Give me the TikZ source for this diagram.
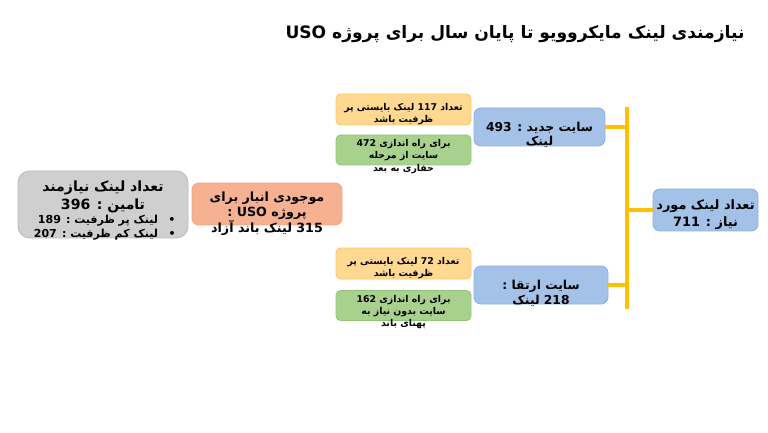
\documentclass[tikz,border=0pt]{standalone}
\usepackage{fontspec}
\usepackage{tikz}
\TeXXeTstate=1
\newfontfamily\arabicfont[Script=Arabic]{DejaVu Sans}
\newcommand{\fa}[1]{{\arabicfont\bfseries\beginR #1\endR}}
\newcommand{\en}[1]{\beginL #1\endL{}}
\definecolor{greyfill}{HTML}{CFCFCF}
\definecolor{greyline}{HTML}{BDBDBD}
\definecolor{orangefill}{HTML}{F5B192}
\definecolor{orangeline}{HTML}{F4A77F}
\definecolor{yellowfill}{HTML}{FFD891}
\definecolor{yellowline}{HTML}{F8C96C}
\definecolor{greenfill}{HTML}{A9D18E}
\definecolor{greenline}{HTML}{93C37A}
\definecolor{bluefill}{HTML}{A4C2E8}
\definecolor{blueline}{HTML}{8EB1DE}
\definecolor{tiecolor}{HTML}{FFC000}

\begin{document}
\begin{tikzpicture}
            [x=0.03cm,y=-0.03cm,thick,
             every node/.style={rounded corners=6pt,align=center,inner sep=1pt},
             greybox/.style={fill=greyfill,draw=greyline,minimum width=5.1cm,minimum height=2.01cm,rounded corners=10pt},
             orangebox/.style={fill=orangefill,draw=orangeline,minimum width=4.5cm,minimum height=1.26cm},
             yellowbox/.style={fill=yellowfill,draw=yellowline,minimum width=4.05cm,minimum height=0.93cm,rounded corners=4pt},
             greenbox/.style={fill=greenfill,draw=greenline,minimum width=4.05cm,minimum height=0.9cm,rounded corners=4pt},
             bluebox/.style={fill=bluefill,draw=blueline,minimum height=1.14cm},
             tie/.style={draw=tiecolor,line width=3.4pt},
             plain/.style={rounded corners=0pt,inner sep=0pt},
             bigtext/.style={plain,font=\fontsize{12}{15.3}\selectfont},
             midtext/.style={plain,font=\fontsize{10.8}{12.4}\selectfont},
             listtext/.style={plain,font=\fontsize{9.4}{11}\selectfont},
             smalltext/.style={plain,font=\fontsize{8}{10.4}\selectfont}]
            \useasboundingbox (0,0) rectangle (768,433);
            % title
            \node[plain,font=\fontsize{14.6}{17}\selectfont] (title) at (515,34) {\fa{نیازمندی لینک مایکروویو تا پایان سال برای پروژه \en{USO}}};
            % stock and demand
            \node[greybox] (need) at (103,204.5) {};
            \node[bigtext] (needtext) at (103,197) {\fa{تعداد لینک نیازمند}\\\fa{تامین : \en{396}}};
            \node[listtext,anchor=east] (high) at (176,221) {\fa{•\hspace{9pt}لینک پر ظرفیت : \en{189}}};
            \node[listtext,anchor=east] (low) at (176,235) {\fa{•\hspace{9pt}لینک کم ظرفیت : \en{207}}};
            \node[orangebox] (stock) at (267,204) {};
            \node[midtext] (stocktext) at (267,214) {\fa{موجودی انبار برای}\\\fa{پروژه \en{USO} :}\\\fa{\en{315} لینک باند آزاد}};
            % new sites
            \node[yellowbox] (y1) at (403.5,109.5) {};
            \node[smalltext] (y1text) at (403.5,114) {\fa{تعداد \en{117} لینک بایستی پر}\\\fa{ظرفیت باشد}};
            \node[greenbox] (g1) at (403.5,150) {};
            \node[smalltext] (g1text) at (403.5,156.5) {\fa{برای راه اندازی \en{472}}\\\fa{سایت از مرحله}\\\fa{حفاری به بعد}};
            \node[bluebox,minimum width=3.93cm] (newsite) at (539.5,127) {};
            \node[midtext,font=\fontsize{10.5}{12}\selectfont] (newtext) at (539.5,135) {\fa{سایت جدید : \en{493}}\\\fa{لینک}};
            % upgraded sites
            \node[yellowbox] (y2) at (403.5,263.5) {};
            \node[smalltext] (y2text) at (403.5,268) {\fa{تعداد \en{72} لینک بایستی پر}\\\fa{ظرفیت باشد}};
            \node[greenbox] (g2) at (403.5,305.5) {};
            \node[smalltext] (g2text) at (403.5,312) {\fa{برای راه اندازی \en{162}}\\\fa{سایت بدون نیاز به}\\\fa{پهنای باند}};
            \node[bluebox,minimum width=4.02cm] (upsite) at (541,285) {};
            \node[midtext,font=\fontsize{10.5}{13}\selectfont] (uptext) at (541,293) {\fa{سایت ارتقا :}\\\fa{\en{218} لینک}};
            % total
            \node[bluebox,minimum width=3.15cm,minimum height=1.26cm] (total) at (705.5,210) {};
            \node[midtext,font=\fontsize{11}{14.3}\selectfont] (totaltext) at (705.5,215) {\fa{تعداد لینک مورد}\\\fa{نیاز : \en{711}}};
            % the bracket
            \coordinate (top) at (627,107);
            \coordinate (bottom) at (627,309);
            \coordinate (j1) at (627,127);
            \coordinate (j2) at (627,285);
            \coordinate (j3) at (627,210);
            \draw[tie] (top) -- (bottom);
            \draw[tie] (newsite.east) -- (j1);
            \draw[tie] (upsite.east) -- (j2);
            \draw[tie] (j3) -- (total.west);
        \end{tikzpicture}
\end{document}
